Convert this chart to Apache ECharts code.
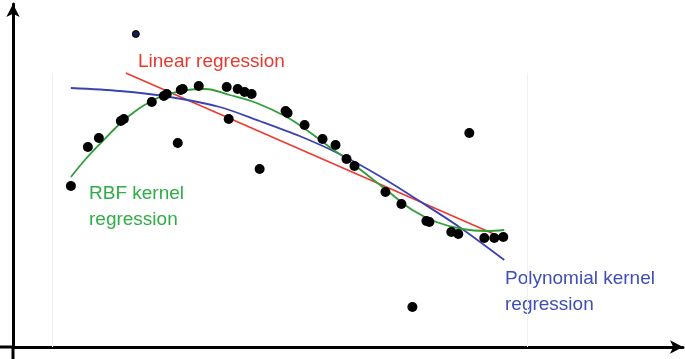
<!DOCTYPE html>
<html>
<head>
<meta charset="utf-8">
<script src="https://cdn.jsdelivr.net/npm/echarts@6/dist/echarts.min.js"></script>
<style>
  html, body { margin: 0; padding: 0; background: #fff; }
  #chart { width: 685px; height: 359px; }
</style>
</head>
<body>
<div id="chart"></div>
<script>
// observations (x, y)
var pointX = [58, 75, 86, 108, 111, 139, 151, 154, 165, 168, 170, 186, 214, 216, 225, 232, 239, 247, 273, 275,
  292, 310, 323, 334, 342, 373, 389, 400, 414, 417, 439, 446, 457, 472, 482, 491];
var pointY = [161, 200, 209, 226, 228, 245, 251, 253, 204, 257, 258, 261, 260, 228, 258, 255, 253, 178, 236, 234,
  222, 208, 202, 188, 181, 155, 143, 40, 126, 125, 115, 113, 214, 109, 109, 110];
// the odd one out at the top
var outlierX = [123];
var outlierY = [313];

// fitted curves
var linearX = [113, 493];
var linearY = [274, 108];
var polyX = [58, 107, 157, 207, 247, 287, 327, 367, 407, 447, 492];
var polyY = [259, 256, 250, 240, 226, 211, 193, 171, 146, 120, 87];
var rbfX = [58, 72, 87, 109, 127, 139, 152, 175, 192, 217, 244, 274, 294, 317, 334, 374, 400, 424, 450, 474, 492];
var rbfY = [170, 187, 203, 225, 239, 246, 252, 257, 258, 252, 244, 230, 217, 200, 188, 157, 137, 125, 118, 116, 117];

function zip(xs, ys) {
  return xs.map(function (x, i) { return [x, ys[i]]; });
}

var chart = echarts.init(document.getElementById("chart"));
var font = '"Liberation Sans", sans-serif';

var option = {
  animation: false,
  grid: { left: 13, right: 2, top: 4, bottom: 12 },
  xAxis: {
    type: "value",
    min: 0,
    max: 671,
    axisLine: { show: true, symbol: ["none", "arrow"], symbolSize: [10, 13], lineStyle: { color: "#000", width: 3 } },
    axisTick: { show: false },
    axisLabel: { show: false },
    splitLine: { show: false }
  },
  yAxis: {
    type: "value",
    min: 0,
    max: 343,
    axisLine: { show: true, symbol: ["none", "arrow"], symbolSize: [10, 13], lineStyle: { color: "#000", width: 3 } },
    axisTick: { show: false },
    axisLabel: { show: false },
    splitLine: { show: false }
  },
  graphic: [
    // axis overhangs past the origin
    { type: "line", shape: { x1: 0, y1: 347, x2: 14, y2: 347 }, style: { stroke: "#000", lineWidth: 3 } },
    { type: "line", shape: { x1: 13, y1: 346, x2: 13, y2: 359 }, style: { stroke: "#000", lineWidth: 3 } },
    { type: "text", left: 138, top: 52, style: { text: "Linear regression", fill: "#e8392f", font: "19px " + font } },
    { type: "text", left: 89, top: 181, style: { text: "RBF kernel\nregression", fill: "#2fae45", font: "19px " + font, lineHeight: 26 } },
    { type: "text", left: 505, top: 266, style: { text: "Polynomial kernel\nregression", fill: "#3f4fb3", font: "19px " + font, lineHeight: 26 } }
  ],
  series: [
    {
      type: "line",
      data: [],
      silent: true,
      markLine: {
        symbol: "none",
        silent: true,
        label: { show: false },
        lineStyle: { color: "#f0f0f0", width: 1, type: "solid" },
        data: [
          [{ coord: [39, 0] }, { coord: [39, 274] }],
          [{ coord: [515, 0] }, { coord: [515, 274] }]
        ]
      }
    },
    {
      name: "Linear regression",
      type: "line",
      data: zip(linearX, linearY),
      showSymbol: false,
      lineStyle: { color: "#ee3a30", width: 1.6 },
      z: 3
    },
    {
      name: "Polynomial kernel regression",
      type: "line",
      data: zip(polyX, polyY),
      smooth: 0.3,
      showSymbol: false,
      lineStyle: { color: "#3a42b4", width: 1.8 },
      z: 3
    },
    {
      name: "RBF kernel regression",
      type: "line",
      data: zip(rbfX, rbfY),
      smooth: 0.4,
      showSymbol: false,
      lineStyle: { color: "#2f9e38", width: 1.8 },
      z: 3
    },
    {
      type: "scatter",
      data: zip(pointX, pointY),
      symbolSize: 10,
      itemStyle: { color: "#000", opacity: 1 },
      z: 4
    },
    {
      type: "scatter",
      data: zip(outlierX, outlierY),
      symbolSize: 7,
      itemStyle: { color: "#0d1f4a", borderColor: "#000", borderWidth: 1, opacity: 1 },
      z: 4
    }
  ]
};
chart.setOption(option);
</script>
</body>
</html>
